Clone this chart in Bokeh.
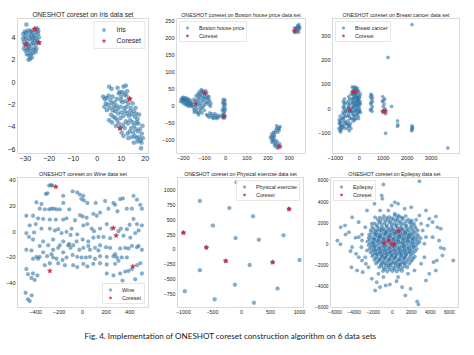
from bokeh.plotting import figure
from bokeh.models import Range1d, FixedTicker, Legend, LegendItem, Label, CustomJSTickFormatter
from bokeh.layouts import row, column
from bokeh.embed import file_html
from bokeh.resources import INLINE

# ---------------- data ----------------
IRIS_X_TICKS = [-30, -20, -10, 0, 10, 20]
IRIS_Y_TICKS = [-6, -4, -2, 0, 2, 4]
iris_pts = [(-29.5, 5.15), (-30.8, 4.3), (-30.2, 4.5), (-29.6, 4.4), (-29.0, 4.6), (-28.3, 4.2), (-27.6, 4.5),
            (-26.8, 4.4), (-26.0, 4.7), (-25.2, 4.5), (-24.6, 4.3), (-24.3, 4.0), (-25.5, 3.9), (-26.4, 4.0),
            (-27.2, 3.8), (-28.1, 3.9), (-29.0, 3.7), (-29.8, 3.9), (-30.6, 3.6), (-30.1, 3.3), (-29.2, 3.4),
            (-28.4, 3.2), (-27.5, 3.4), (-26.7, 3.5), (-25.8, 3.3), (-24.9, 3.6), (-24.2, 3.5), (-25.3, 3.0),
            (-26.2, 2.9), (-27.1, 3.0), (-28.0, 2.8), (-28.9, 2.9), (-29.8, 2.8), (-30.5, 3.0), (-29.3, 2.5),
            (-28.5, 2.4), (-27.6, 2.5), (-26.7, 2.6), (-27.9, 2.1), (-27.2, 2.2), (-28.6, 2.0), (-26.1, 4.2),
            (-27.9, 4.6), (-29.9, 4.1), (-25.0, 4.8), (-24.5, 4.6), (-28.8, 3.1), (-26.0, 3.7), (-30.9, 3.9),
            (-27.4, 4.1), (-25.6, 2.7),
            (6.0, -0.6), (8.5, -0.5), (9.5, -0.9), (11.0, -0.4), (12.0, -0.3), (12.5, -0.8), (11.5, -1.1),
            (10.0, -1.3), (2.5, -1.3), (3.2, -1.5), (4.0, -1.4), (4.8, -1.2), (5.5, -1.6), (3.6, -1.9),
            (4.5, -2.0), (5.2, -2.3), (6.0, -1.9), (6.5, -2.5), (4.0, -2.5), (5.8, -2.9), (6.8, -3.1),
            (7.5, -2.6), (5.0, -3.4), (7.2, -1.8), (8.0, -2.1), (8.8, -2.8), (8.4, -3.4), (9.6, -2.2),
            (10.2, -2.7), (9.8, -3.2), (9.0, -3.7), (10.5, -1.8), (11.2, -2.3), (11.8, -1.7), (12.3, -2.2),
            (11.0, -3.0), (12.5, -2.8), (13.0, -1.9), (13.5, -1.5), (14.0, -2.3), (13.2, -3.0), (14.5, -2.9),
            (12.0, -3.5), (10.8, -3.8), (11.5, -4.1), (9.5, -4.1), (10.2, -4.5), (12.8, -3.7), (13.8, -3.4),
            (15.2, -2.6), (15.8, -3.1), (16.3, -2.8), (14.8, -3.6), (15.5, -3.9), (16.8, -3.3), (17.2, -3.7),
            (16.0, -4.2), (17.0, -4.4), (15.0, -4.5), (14.2, -4.1), (13.5, -4.4), (12.7, -4.6), (14.5, -4.9),
            (15.7, -4.8), (16.5, -5.0), (17.5, -4.9), (18.0, -5.2), (18.5, -5.4), (17.8, -4.2), (18.6, -4.6),
            (16.9, -5.3), (18.3, -5.9), (13.0, -5.0), (11.0, -4.8), (15.3, -5.4), (7.0, -2.2), (8.2, -1.5),
            (9.0, -1.0), (6.2, -3.6), (7.8, -3.9), (10.6, -0.9), (14.8, -1.9), (16.0, -2.3), (12.2, -1.2),
            (3.0, -2.2), (5.0, -0.4), (17.5, -2.9), (19.0, -5.0), (18.9, -3.9), (16.4, -3.6), (13.7, -2.6),
            (11.7, -2.6), (8.6, -2.4), (9.9, -1.6), (7.6, -3.2), (6.4, -1.3)]
iris_core = [(-26.0, 4.75), (-29.7, 3.4), (-24.4, 3.55), (13.5, -1.5), (9.6, -4.1)]

BOSTON_X_TICKS = [-200, -100, 0, 100, 200, 300]
BOSTON_Y_TICKS = [-100, -50, 0, 50, 100, 150, 200, 250]
boston_pts = [(-210, 20), (-205, 24), (-200, 18), (-195, 22), (-190, 15), (-185, 20), (-180, 12), (-175, 16),
              (-170, 8), (-165, 12), (-160, 5), (-205, 12), (-198, 8), (-190, 5), (-182, 3), (-175, 0),
              (-168, 2), (-200, 26), (-188, 25), (-178, 22), (-168, 18), (-212, 14), (-195, 14), (-185, 9),
              (-172, 6), (-162, 0), (-158, 10), (-202, 20), (-192, 19), (-180, 17), (-176, 7),
              (-150, 20), (-145, 15), (-140, 10), (-135, 18), (-130, 25), (-125, 30), (-120, 35), (-115, 40),
              (-110, 45), (-105, 42), (-100, 38), (-95, 45), (-90, 40), (-88, 32), (-85, 25), (-80, 20),
              (-75, 15), (-78, 28), (-92, 22), (-98, 28), (-105, 25), (-112, 30), (-118, 22), (-125, 15),
              (-130, 8), (-138, 2), (-145, -5), (-150, -10), (-140, -15), (-132, -20), (-125, -18), (-118, -12),
              (-110, -5), (-105, 0), (-98, 5), (-92, 10), (-115, 8), (-122, 2), (-135, -8), (-155, 0),
              (-148, -18), (-128, -25), (-112, -20), (-100, -12), (-120, -5), (-108, 15), (-102, 18), (-86, 12),
              (-80, 5), (-72, 0), (-70, 8), (-140, 30), (-132, 35), (-125, 42), (-115, 48),
              (-85, -28), (-78, -32), (-70, -27), (-62, -33), (-55, -28), (-48, -32), (-40, -27), (-35, -33),
              (-30, -28), (-65, -22), (-50, -22), (-75, -20), (-90, -25), (-58, -36), (-42, -36),
              (-12, 20), (-8, 15), (-5, 10), (-10, 5), (-6, 0), (-12, -5), (-8, -10), (-4, -15), (-10, -20),
              (-15, -25), (-6, -25), (-12, -32), (-3, -30), (-2, 5), (-3, 18), (-14, 10), (-16, -12), (-1, -8),
              (-18, -30), (-8, -35),
              (241, -57), (257, -60), (249, -66), (237, -71), (226, -76), (218, -81), (215, -88), (222, -95),
              (226, -102), (234, -108), (241, -112), (249, -116), (231, -114), (237, -119), (218, -100),
              (212, -92), (231, -86), (246, -76), (252, -63), (240, -65), (232, -78), (224, -86), (220, -106),
              (228, -94), (236, -100), (244, -104), (255, -110), (260, -118), (247, -123), (253, -70),
              (322, 220), (330, 225), (338, 230), (345, 232), (348, 226), (342, 222), (335, 218), (328, 215),
              (340, 235), (346, 238), (332, 228), (325, 228), (350, 230), (336, 224), (344, 216)]
boston_core = [(-143, 6), (-100, 37), (-8, -30), (252, -118), (326, 219)]

BREAST_X_TICKS = [-1000, 0, 1000, 2000, 3000]
BREAST_Y_TICKS = [-100, 0, 100, 200, 300]
breast_pts = [(-850, -80), (-830, -60), (-810, -90), (-790, -70), (-770, -50), (-750, -85), (-730, -40),
              (-800, -30), (-760, -65), (-840, -45), (-720, -75), (-780, -95), (-815, -55), (-775, -80),
              (-700, -70), (-680, -40), (-660, -10), (-640, 20), (-620, 40), (-600, 0), (-580, -30), (-560, -60),
              (-690, -20), (-650, -55), (-610, -80), (-630, 10), (-670, 30), (-590, 25), (-570, -10), (-650, -35),
              (-675, 5), (-615, -20), (-595, -50), (-640, -70),
              (-520, -60), (-500, -30), (-480, 0), (-460, 30), (-440, 50), (-420, -90), (-400, -70), (-380, -40),
              (-360, -10), (-500, -80), (-470, -50), (-450, -20), (-430, 10), (-410, 40), (-390, 20), (-370, -60),
              (-350, -80), (-480, 20), (-520, -10), (-440, -70), (-455, 5), (-415, -30), (-395, -10), (-475, -65),
              (-330, -40), (-320, 0), (-310, 40), (-300, 70), (-290, -20), (-280, 20), (-270, 60), (-260, 85),
              (-250, -50), (-240, 10), (-230, 40), (-220, 75), (-210, -30), (-200, 30), (-190, 60), (-180, 90),
              (-170, -10), (-160, 20), (-150, 50), (-140, 80), (-130, -40), (-120, 0), (-110, 35), (-100, 65),
              (-90, -20), (-80, 15), (-70, 45), (-60, 75), (-50, -30), (-40, 10), (-30, 40), (-20, 70),
              (-10, -10), (0, 20), (10, 50), (20, -5), (30, 30), (40, 60), (-300, -10), (-260, 45), (-215, -10),
              (-175, 45), (-135, 25), (-95, 40), (-55, 55), (-15, 25), (-340, 60), (-240, -25), (-195, -45),
              (-125, -25), (-65, -5), (-5, 5), (-290, 90), (-160, 85), (-80, 85), (-30, -40), (45, 20), (50, -15),
              (-285, 5), (-245, 65), (-205, 5), (-185, 15), (-145, -5), (-105, 15), (-75, 30), (-35, -15),
              (-255, 25), (-225, 55), (-165, 65), (-115, 50), (-45, 35), (5, 45), (-300, 30), (-230, -40),
              (460, -5), (480, 20), (500, 40), (520, 55), (540, 10), (550, 30), (470, 50), (510, 0), (530, -10),
              (490, 60), (555, 45), (495, 25),
              (960, 30), (980, 50), (1000, 10), (1020, -15), (1040, 20), (1060, 40), (1080, 0), (1100, -20),
              (970, -10), (1010, 35), (1050, -5),
              (1350, 10), (1600, -50), (1610, -65), (1600, -72), (2200, -70), (2210, -80), (2190, -90),
              (2220, -75), (2205, -85), (2200, 345), (1200, 210), (1100, -100), (3700, -160)]
breast_core = [(-250, 70), (-150, 70), (-400, -5), (1000, -10), (1100, -10)]

WINE_X_TICKS = [-400, -200, 0, 200, 400]
WINE_Y_TICKS = [-40, -20, 0, 20, 40]
wine_pts = [(-285, 36), (-270, 36.5), (-256, 36), (-313, 29.5), (-299, 30), (-85, 31.5), (-46, 30.7), (-23, 29),
            (6, 28), (-393, 23), (-350, 21.7), (-365, 18), (-285, 17.5), (-265, 18), (-245, 18), (-222, 17.5),
            (-194, 17.5), (-114, 17.5), (-165, 28), (-165, 22.5), (-11, 25.7), (11, 24.5), (40, 22.5),
            (111, 22.5), (191, 24), (262, 22.5), (276, 21), (319, 25.5), (342, 26), (433, 28), (462, 25),
            (490, 21), (504, 18), (419, 18), (376, 18), (219, 18), (296, 16), (148, 15), (91, 14), (120, 12.5),
            (-23, 13), (0, 12), (34, 11), (-65, 9), (-137, 10.5), (-165, 9.5), (-228, 9.5), (-279, 9.5),
            (-336, 10), (-379, 10.5), (-422, 12.5), (-479, 12.5), (-322, 17.5), (-399, 6), (-450, 5),
            (-413, -0.5), (-350, 2.5), (-279, 2.5), (-236, 1), (-208, 2), (-179, -1), (-137, 0), (-94, 2.5),
            (-103, -2.5), (-46, -2), (6, 5), (40, 6), (77, 2.5), (97, 0.5), (148, 2.5), (205, 6), (248, 2.5),
            (305, 0.5), (325, 2.5), (376, 2), (399, 5.5), (433, 10), (462, 6), (504, 5), (476, 1), (447, -1),
            (405, -4.5), (348, -3), (234, -5), (177, -4), (134, -4), (91, -4.5), (48, -7.5), (0, -6),
            (-51, -7.5), (-80, -10.5), (-114, -9.5), (-165, -7.5), (-194, -10.5), (-251, -6), (-293, -10.5),
            (-336, -7.5), (-365, -11), (-422, -6), (-456, -4), (-479, -1), (-479, -14), (-436, -14.5),
            (-393, -19.5), (-422, -21), (-379, -21), (-336, -16), (-251, -14), (-208, -12.5), (-165, -16),
            (-123, -10.5), (-103, -12.5), (-28, -14), (6, -12.5), (48, -11), (62, -14), (105, -12.5),
            (134, -14.5), (148, -10.5), (199, -12), (234, -12.5), (276, -17.5), (291, -20), (319, -13),
            (362, -12.5), (390, -13), (419, -11), (462, -12), (476, -11), (504, -14), (-365, -19.5),
            (-302, -19), (-265, -17.5), (-251, -20), (-222, -21), (-171, -22), (-137, -20), (-85, -18),
            (-46, -19.5), (-9, -20), (28, -20), (62, -19.5), (105, -21), (148, -19), (205, -19.5), (262, -19),
            (333, -20), (376, -20), (305, -22.5), (-322, -26), (-279, -24.5), (-208, -24.5), (-151, -26),
            (-80, -26), (-46, -27.5), (6, -25), (40, -27), (91, -25), (148, -24.5), (205, -25.5), (276, -25),
            (319, -32.5), (362, -31), (390, -30.5), (419, -29), (462, -26), (490, -24.5), (504, -32.5),
            (447, -37), (339, -38), (262, -34), (205, -32.5), (-479, -29), (-465, -33), (-422, -32.5),
            (-385, -34), (-436, -36), (-408, -37.5), (-485, -47.5), (-465, -52.5), (-450, -54), (-433, -49.5)]
wine_core = [(-228, 35), (262, 3), (285, -3), (427, -27), (-279, -30.5)]

PHYS_X_TICKS = [-1000, -500, 0, 500, 1000]
PHYS_Y_TICKS = [-750, -500, -250, 0, 250, 500, 750, 1000]
phys_pts = [(-85, 1124), (-717, 811), (-209, 691), (198, 554), (819, 674), (-492, 400), (-1000, 280),
            (-102, 192), (299, 164), (723, 236), (-605, 33), (-271, -192), (141, -258), (537, -214),
            (1000, -175), (-717, -345), (-113, -587), (621, -652), (-977, -696), (-463, -833), (215, -888)]
phys_core = [(819, 674), (-1000, 280), (-605, 33), (-271, -192), (537, -214)]

EPI_X_TICKS = [-6000, -4000, -2000, 0, 2000, 4000, 6000]
EPI_Y_TICKS = [-6000, -4000, -2000, 0, 2000, 4000, 6000]
epi_pts = [(-880, 2640), (-320, 2540), (260, 2710), (790, 2570), (1420, 2630), (-1300, 2480),
           (-1520, 2280), (-980, 2350), (-430, 2260), (120, 2330), (580, 2250), (1130, 2370), (1690, 2290), (2050, 2200),
           (-1880, 1920), (-1370, 2000), (-830, 1940), (-280, 1990), (210, 1900), (720, 1980), (1240, 1930), (1820, 1990), (2290, 1910),
           (-2120, 1580), (-1580, 1640), (-1090, 1570), (-620, 1620), (-90, 1590), (420, 1650), (880, 1560), (1410, 1630), (1930, 1580), (2380, 1640),
           (-2280, 1270), (-1820, 1210), (-1290, 1280), (-780, 1230), (-310, 1290), (220, 1220), (690, 1270), (1210, 1240), (1720, 1290), (2190, 1210), (2680, 1260),
           (-2420, 880), (-1880, 930), (-1420, 870), (-890, 920), (-380, 880), (90, 940), (620, 890), (1090, 920), (1620, 870), (2080, 930), (2610, 890),
           (-2480, 560), (-2010, 520), (-1480, 580), (-1020, 530), (-490, 570), (20, 520), (510, 580), (990, 540), (1520, 560), (2010, 530), (2480, 570), (2990, 520),
           (-2620, 210), (-2080, 170), (-1610, 230), (-1090, 180), (-620, 220), (-80, 190), (410, 230), (880, 170), (1420, 210), (1890, 190), (2420, 220), (2880, 180),
           (-2480, -130), (-2020, -170), (-1490, -120), (-980, -160), (-520, -140), (30, -180), (490, -130), (1020, -170), (1480, -140), (2010, -160), (2520, -130),
           (-2390, -480), (-1920, -530), (-1380, -490), (-910, -520), (-380, -470), (80, -530), (610, -490), (1090, -510), (1620, -480), (2080, -530), (2590, -500),
           (-2280, -830), (-1810, -880), (-1320, -840), (-790, -870), (-280, -820), (190, -880), (720, -840), (1190, -860), (1710, -830), (2210, -870),
           (-2090, -1180), (-1620, -1230), (-1080, -1190), (-610, -1220), (-90, -1170), (380, -1230), (920, -1190), (1380, -1210), (1910, -1180), (2380, -1220),
           (-1880, -1530), (-1420, -1580), (-890, -1540), (-410, -1570), (120, -1520), (580, -1580), (1120, -1540), (1590, -1560), (2090, -1530),
           (-1720, -1880), (-1180, -1930), (-690, -1890), (-220, -1920), (320, -1870), (790, -1930), (1310, -1890), (1780, -1910),
           (-1380, -2230), (-920, -2280), (-380, -2240), (90, -2270), (620, -2220), (1080, -2280), (1590, -2240),
           (-980, -2580), (-520, -2630), (20, -2590), (480, -2620), (1020, -2570),
           (-600, 2450), (-50, 2420), (500, 2440), (1050, 2480),
           (-1250, 2120), (-700, 2150), (-150, 2110), (350, 2160), (900, 2120), (1450, 2140), (1950, 2080),
           (-1650, 1780), (-1100, 1800), (-580, 1760), (-50, 1790), (450, 1770), (980, 1810), (1500, 1760), (2050, 1790),
           (-1950, 1430), (-1420, 1450), (-920, 1400), (-420, 1440), (80, 1410), (580, 1460), (1080, 1420), (1580, 1450), (2080, 1410), (2500, 1450),
           (-2150, 1080), (-1650, 1050), (-1150, 1100), (-650, 1060), (-150, 1090), (350, 1050), (850, 1100), (1350, 1070), (1850, 1040), (2350, 1090),
           (-2250, 720), (-1750, 740), (-1250, 700), (-750, 750), (-250, 710), (250, 740), (750, 700), (1250, 730), (1750, 710), (2250, 750), (2750, 720),
           (-2350, 380), (-1850, 400), (-1350, 360), (-850, 390), (-350, 370), (150, 410), (650, 360), (1150, 390), (1650, 370), (2150, 400), (2650, 380),
           (-2300, 30), (-1800, 10), (-1300, 50), (-800, 20), (-300, 40), (200, 0), (700, 50), (1200, 20), (1700, 30), (2200, 10), (2700, 40),
           (-2200, -320), (-1700, -300), (-1200, -340), (-700, -310), (-200, -330), (300, -300), (800, -340), (1300, -320), (1800, -310), (2300, -340),
           (-2100, -680), (-1600, -660), (-1100, -700), (-600, -670), (-100, -690), (400, -660), (900, -700), (1400, -680), (1900, -660), (2400, -700),
           (-2000, -1020), (-1500, -1040), (-1000, -1000), (-500, -1030), (0, -1010), (500, -1050), (1000, -1010), (1500, -1030), (2000, -1000),
           (-1750, -1380), (-1250, -1400), (-750, -1360), (-250, -1390), (250, -1370), (750, -1410), (1250, -1380), (1750, -1400), (2200, -1370),
           (-1550, -1730), (-1050, -1750), (-550, -1710), (-50, -1740), (450, -1720), (950, -1760), (1450, -1730), (1950, -1710),
           (-1150, -2080), (-650, -2100), (-150, -2060), (350, -2090), (850, -2070), (1350, -2100),
           (-750, -2420), (-250, -2440), (250, -2400), (750, -2430),
           (-1600, 1250), (-1100, 1330), (-560, 1180), (-40, 1310), (470, 1200), (960, 1340), (1480, 1190),
           (-1750, 900), (-1230, 800), (-700, 960), (-180, 820), (330, 980), (860, 800), (1370, 960), (1880, 820),
           (-1900, 450), (-1380, 610), (-880, 470), (-330, 620), (180, 460), (700, 620), (1210, 470), (1730, 610), (2230, 470),
           (-2000, 90), (-1480, 260), (-960, 110), (-440, 270), (70, 100), (590, 270), (1100, 100), (1620, 260), (2120, 110),
           (-1880, -250), (-1360, -420), (-850, -240), (-330, -430), (190, -250), (700, -420), (1200, -250), (1710, -430), (2220, -260),
           (-1800, -620), (-1270, -780), (-760, -610), (-240, -790), (270, -620), (790, -790), (1300, -610), (1810, -780),
           (-1650, -970), (-1130, -1120), (-620, -950), (-110, -1130), (400, -960), (910, -1120), (1420, -960),
           (-1300, -1490), (-780, -1290), (-270, -1500), (250, -1290), (770, -1500), (1290, -1300),
           (-900, -1830), (-380, -2000), (140, -1820), (660, -2000), (1180, -1820),
           (2860, 5930), (-930, 5620), (-2840, 4420), (-1110, 4580), (-1040, 4270), (270, 3940), (620, 3790),
           (-70, 3630), (-2660, 3160), (-1280, 3160), (3550, 3160), (4590, 2590), (3900, 2370), (-4220, 2520),
           (-4970, 1730), (-5430, 1570), (-3530, 2050), (-4560, 1100), (-4910, 880), (-5770, 300), (-5450, -50),
           (-3870, 570), (-3250, -320), (-4390, -700), (-3800, -950), (-4290, -2220), (-3700, -2530),
           (-3110, -2690), (-2770, -1900), (-2150, -3320), (-1630, -3640), (-1800, -4430), (-1280, -4110),
           (-690, -3950), (-250, -3860), (450, -3540), (1040, -4110), (1930, -4270), (1380, -4900),
           (2620, -5470), (2760, -5750), (3550, -3480), (3900, -2840), (4590, -2530), (4690, -1580),
           (4350, -1740), (5280, -1110), (5110, -380), (5450, -480), (6420, -1580), (4930, 310), (4250, 630),
           (5110, 1420), (4760, 1570), (3730, 1730), (4250, 2050), (2520, 2270), (2860, 2680), (2000, 3470),
           (1310, 3320), (-410, 3160), (-1870, 3790), (-3530, 630), (-3180, 880), (-4220, -320), (-3180, -1580),
           (-3530, -1270), (-2490, -2220), (-1450, -2840), (-930, -3160), (620, -3160), (1660, -2840),
           (2340, -2530), (3040, -1900), (3380, -1270), (3380, 0), (3550, 630), (3210, 1260), (3040, 1900),
           (620, 2680), (270, 2840), (-1800, 2520), (-2150, 1900), (-2840, 1570), (-3180, 310), (-2660, -640),
           (-2840, -1270)]
epi_core = [(-830, 60), (-350, 310), (-70, -60), (220, -20), (690, 1190)]

TITLES = ["ONESHOT coreset on Iris data set",
          "ONESHOT coreset on Boston house price data set",
          "ONESHOT coreset on Breast cancer data set",
          "ONESHOT coreset on Wine data set",
          "ONESHOT coreset on Physical exercise data set",
          "ONESHOT coreset on Epilepsy data set"]
NAMES = ["Iris", "Boston house price", "Breast cancer", "Wine", "Physical exercise", "Epilepsy"]
CORESET_LABEL = "Coreset"
CAPTION = "Fig. 4.  Implementation of ONESHOT coreset construction algorithm on 6 data sets"

# ---------------- style ----------------
BLUE = "#2f74a6"
RED = "#c8283a"
FONT = "Liberation Sans"
TXT = "#262626"
MINUS = CustomJSTickFormatter(code="return tick < 0 ? '\u2212' + (-tick) : '' + tick;")


def panel(title, name, pts, core, xr, yr, xt, yt, w, h, mb, fs_t, fs_k, fs_l, dot, star, leg_loc,
          leg_glyph, leg_pad):
    p = figure(width=w, height=h, output_backend="svg", toolbar_location=None,
               x_range=Range1d(*xr), y_range=Range1d(*yr),
               min_border_left=mb[0], min_border_right=mb[1],
               min_border_top=mb[2], min_border_bottom=mb[3])
    p.background_fill_color = "white"
    p.border_fill_color = "white"
    p.outline_line_color = "#d9d9d9"
    p.outline_line_width = 1
    p.xgrid.visible = False
    p.ygrid.visible = False
    p.title.text = title
    p.title.align = "center"
    p.title.text_font = FONT
    p.title.text_font_size = f"{fs_t}px"
    p.title.text_font_style = "normal"
    p.title.text_color = TXT
    p.title.standoff = 1
    p.title.offset = 0
    for ax, ticks in ((p.xaxis, xt), (p.yaxis, yt)):
        ax.ticker = FixedTicker(ticks=ticks)
        ax.formatter = MINUS
        ax.axis_line_color = None
        ax.major_tick_line_color = None
        ax.minor_tick_line_color = None
        ax.major_tick_out = 0
        ax.major_tick_in = 0
        ax.minor_tick_out = 0
        ax.major_label_text_font = FONT
        ax.major_label_text_font_size = f"{fs_k}px"
        ax.major_label_text_color = TXT
        ax.major_label_standoff = 2
    xs = [a for a, b in pts]
    ys = [b for a, b in pts]
    cx = [a for a, b in core]
    cy = [b for a, b in core]
    r1 = p.scatter(xs, ys, marker="circle", size=dot, fill_color=BLUE, fill_alpha=0.58,
                   line_color=BLUE, line_alpha=0.4, line_width=0.4)
    r2 = p.scatter(cx, cy, marker="star", size=star, fill_color=RED, fill_alpha=0.95,
                   line_color=RED, line_width=0.5)
    leg = Legend(items=[LegendItem(label=name, renderers=[r1]),
                        LegendItem(label=CORESET_LABEL, renderers=[r2])],
                 location=leg_loc)
    leg.label_text_font = FONT
    leg.label_text_font_size = f"{fs_l}px"
    leg.label_text_color = TXT
    leg.glyph_width = leg_glyph[0]
    leg.glyph_height = leg_glyph[1]
    leg.label_height = leg_glyph[1]
    leg.label_standoff = leg_glyph[2]
    leg.spacing = leg_glyph[3]
    leg.padding = leg_pad
    leg.margin = 3
    leg.border_line_color = "#cfcfcf"
    leg.border_line_width = 0.8
    leg.background_fill_color = "white"
    leg.background_fill_alpha = 0.85
    p.add_layout(leg)
    return p


f1 = panel(TITLES[0], NAMES[0], iris_pts, iris_core, (-33.2, 21.4), (-6.37, 5.69),
           IRIS_X_TICKS, IRIS_Y_TICKS, 158, 165, (17, 10, 18, 12), 6.6, 7, 7, 4.3, 6.0,
           "top_right", (12, 9, 7, 2), 3)
f2 = panel(TITLES[1], NAMES[1], boston_pts, boston_core, (-232, 377), (-138, 256),
           BOSTON_X_TICKS, BOSTON_Y_TICKS, 156, 165, (15, 9, 18, 12), 5.3, 5.6, 5.3, 3.4, 5.0,
           "top_left", (10, 7, 7, 1), 2)
f3 = panel(TITLES[2], NAMES[2], breast_pts, breast_core, (-1120, 4188), (-183, 370),
           BREAST_X_TICKS, BREAST_Y_TICKS, 160, 165, (13, 15, 18, 12), 5.3, 5.6, 5.3, 3.4, 5.0,
           "top_left", (10, 7, 7, 1), 2)
f4 = panel(TITLES[3], NAMES[3], wine_pts, wine_core, (-554, 560), (-59, 42.3),
           WINE_X_TICKS, WINE_Y_TICKS, 160, 157, (17, 12, 12, 10), 5.4, 5.6, 5.4, 3.8, 5.0,
           "bottom_right", (10, 7, 7, 1), 2)
f5 = panel(TITLES[4], NAMES[4], phys_pts, phys_core, (-1102, 1068), (-969, 1202),
           PHYS_X_TICKS, PHYS_Y_TICKS, 152, 157, (15, 9, 12, 12), 5.2, 5.3, 5.3, 4.0, 5.0,
           "top_right", (10, 7, 7, 1), 2)
f6 = panel(TITLES[5], NAMES[5], epi_pts, epi_core, (-6497, 6974), (-6040, 6284),
           EPI_X_TICKS, EPI_Y_TICKS, 162, 157, (16, 16, 12, 15), 5.2, 4.8, 5.3, 3.6, 5.0,
           "top_left", (10, 7, 7, 1), 2)

cap = figure(width=474, height=33, output_backend="svg", toolbar_location=None,
             x_range=Range1d(0, 474), y_range=Range1d(0, 33),
             x_axis_type=None, y_axis_type=None, min_border=0)
cap.outline_line_color = None
cap.grid.visible = False
cap.add_layout(Label(x=231, y=20, text=CAPTION, text_align="center", text_baseline="middle",
                     text_font="Lato", text_font_size="8.1px", text_color="#1a1a1a"))

layout = column(row(f1, f2, f3), row(f4, f5, f6), cap)
open("out.html", "w").write(file_html(layout, INLINE))
